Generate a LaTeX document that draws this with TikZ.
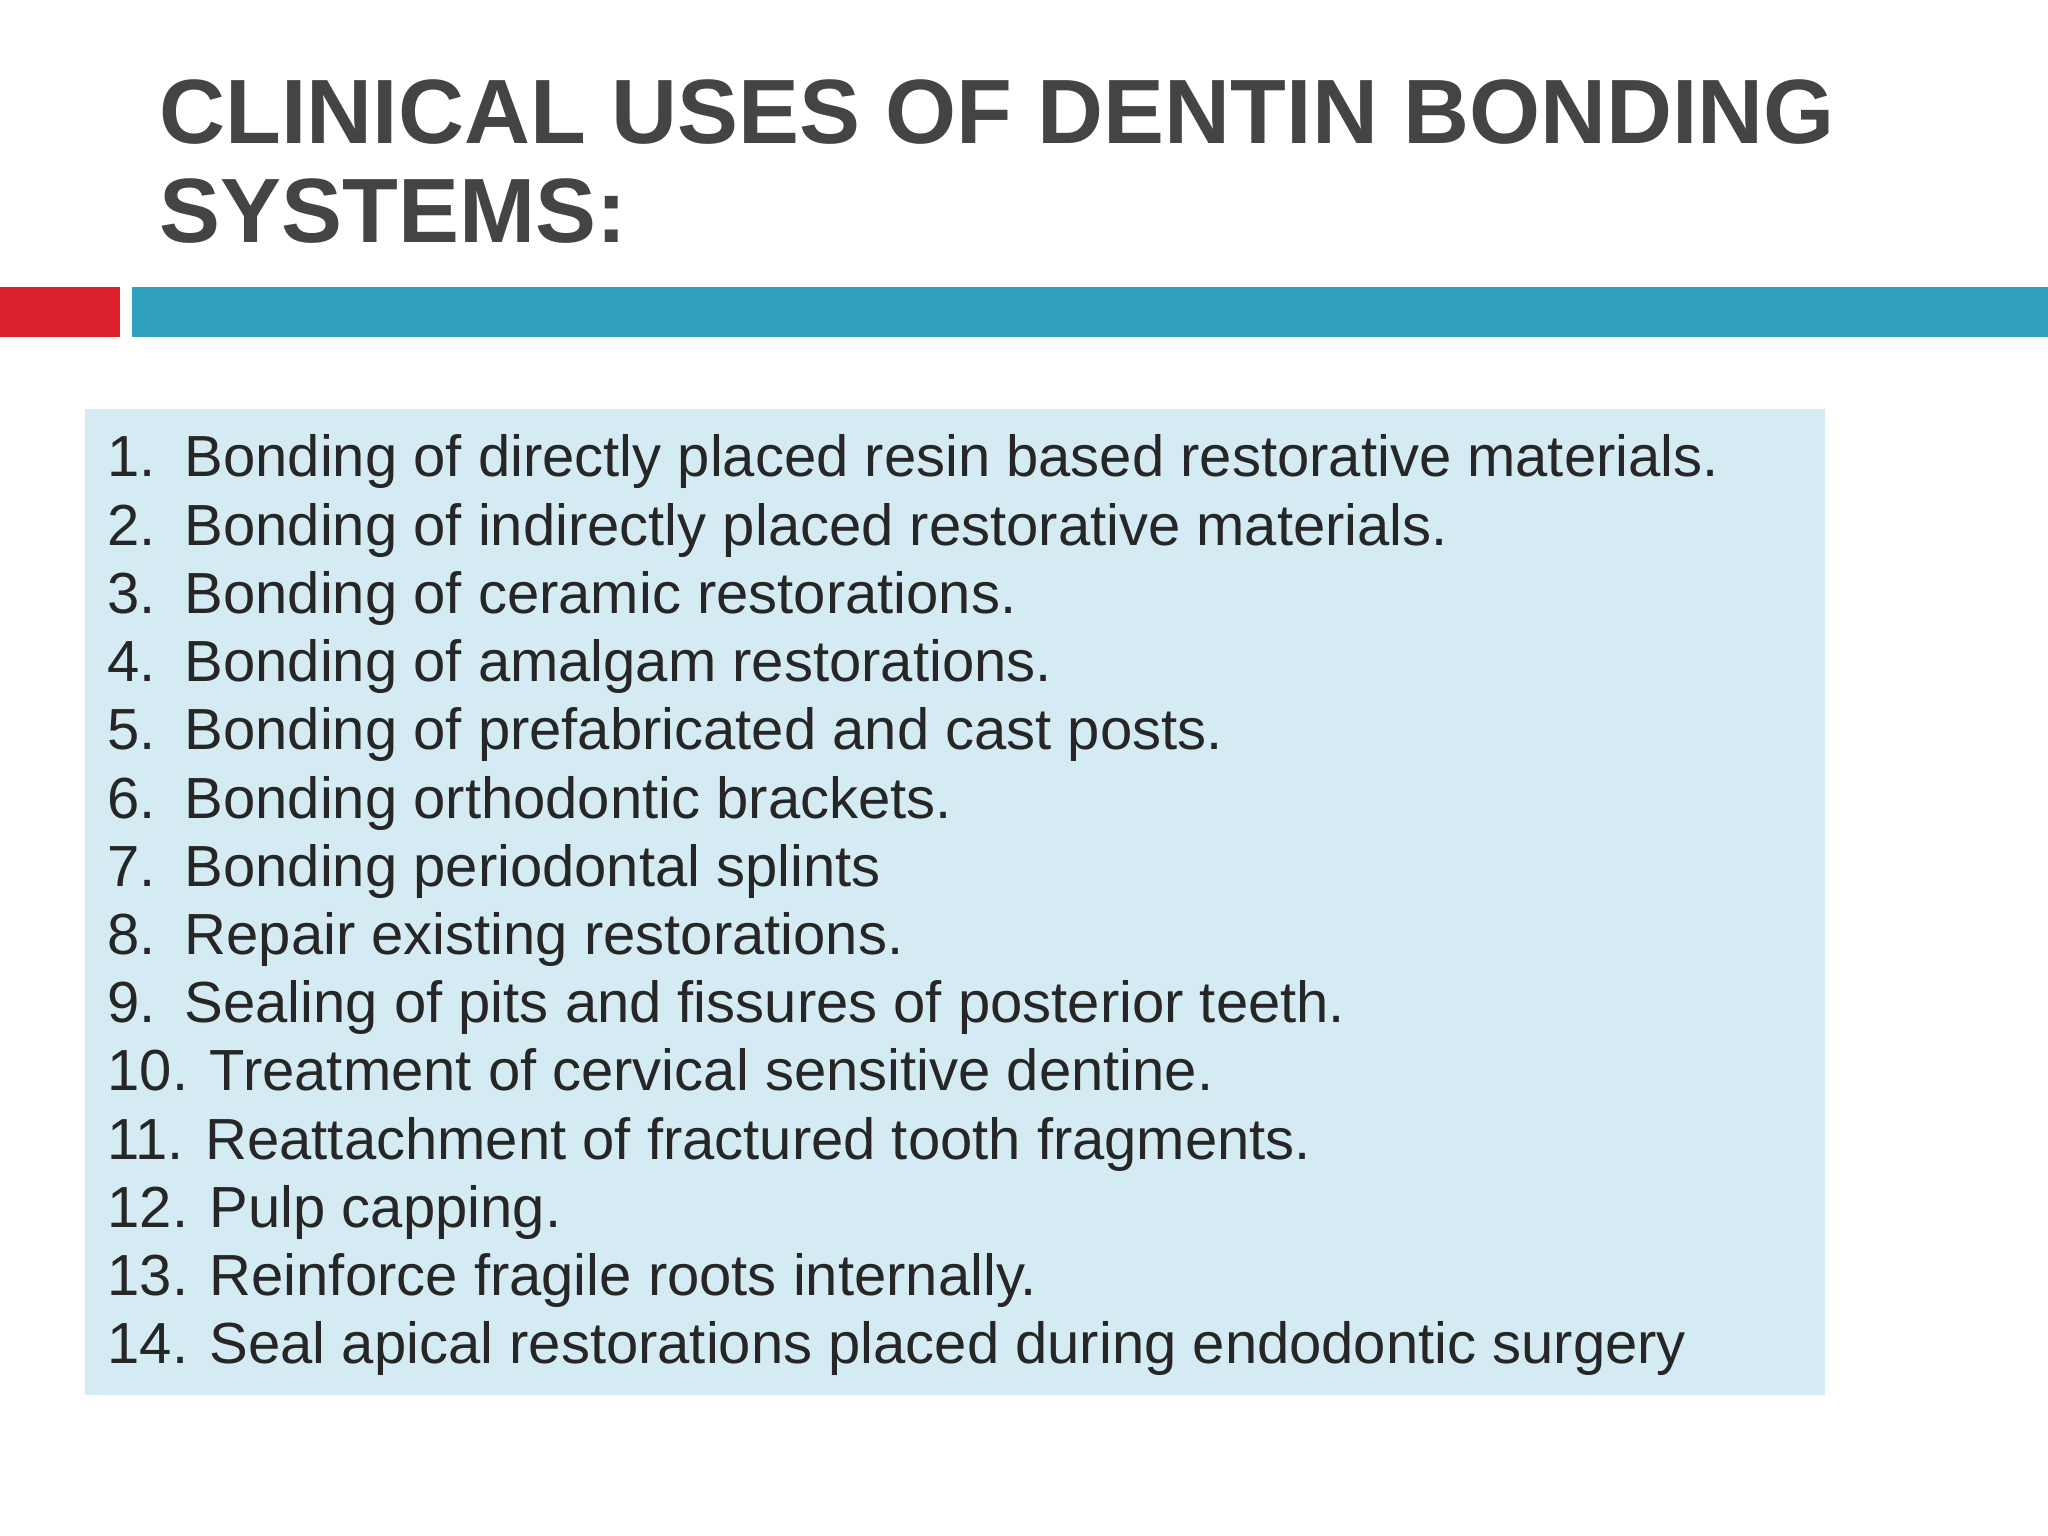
\documentclass[tikz,border=0pt]{standalone}
\usepackage{fontspec}
\setmainfont{Liberation Sans}
\definecolor{titlegray}{HTML}{444444}
\definecolor{barred}{HTML}{DC1F2D}
\definecolor{barblue}{HTML}{2FA0BE}
\definecolor{boxblue}{HTML}{D5EBF3}
\begin{document}
\begin{tikzpicture}[x=1cm,y=1cm]
\tikzstyle{titleText}=[anchor=base west,inner sep=0pt,text=titlegray,font=\fontsize{26}{30}\selectfont\bfseries]
\tikzstyle{itemText}=[anchor=base west,inner sep=0pt,text=black!85,font=\fontsize{16.5}{20}\selectfont]
\useasboundingbox (0,0) rectangle (20.48,-15.36);
%Title
\node[titleText] (titleA) at (1.59,-1.44) {CLINICAL USES OF DENTIN BONDING};
\node[titleText] (titleB) at (1.59,-2.43) {SYSTEMS:};

%bars
\fill[barred]  (0,-2.87) rectangle (1.20,-3.37);
\fill[barblue] (1.32,-2.87) rectangle (20.48,-3.37);

%list box
\fill[boxblue] (0.85,-4.09) rectangle (18.25,-13.95);

%list items
\foreach \t [count=\i] in {Bonding of directly placed resin based restorative materials.,
  Bonding of indirectly placed restorative materials.,
  Bonding of ceramic restorations.,
  Bonding of amalgam restorations.,
  Bonding of prefabricated and cast posts.,
  Bonding orthodontic brackets.,
  Bonding periodontal splints,
  Repair existing restorations.,
  Sealing of pits and fissures of posterior teeth.}
  \node[itemText] (item\i) at (1.07,{-4.77-0.682*(\i-1)}) {\makebox[0.77cm][l]{\i.}\t};
\foreach \t [count=\i from 10] in {Treatment of cervical sensitive dentine.,
  Reattachment of fractured tooth fragments.,
  Pulp capping.,
  Reinforce fragile roots internally.,
  Seal apical restorations placed during endodontic surgery}
  \node[itemText] (item\i) at (1.07,{-4.77-0.682*(\i-1)}) {\i. \t};
\end{tikzpicture}
\end{document}
